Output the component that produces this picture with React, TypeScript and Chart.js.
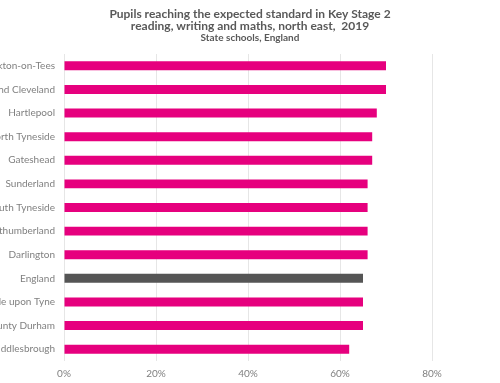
import React, { useEffect, useRef } from "react";
import { Chart, registerables } from "chart.js";

Chart.register(...registerables);

const categories = [
  "Stockton-on-Tees",
  "Redcar and Cleveland",
  "Hartlepool",
  "North Tyneside",
  "Gateshead",
  "Sunderland",
  "South Tyneside",
  "Northumberland",
  "Darlington",
  "England",
  "Newcastle upon Tyne",
  "County Durham",
  "Middlesbrough",
];

const values = [70, 70, 68, 67, 67, 66, 66, 66, 66, 65, 65, 65, 62];

const titleLines = [
  "Pupils reaching the expected standard in Key Stage 2",
  "reading, writing and maths, north east,  2019",
];
const subtitleText = "State schools, England";

const PINK = "#e6007e";
const GREY = "#555555";

export default function App() {
  const ref = useRef<HTMLCanvasElement>(null);

  useEffect(() => {
    if (!ref.current) return;
    const colors = categories.map((c) => (c === "England" ? GREY : PINK));
    const chart = new Chart(ref.current, {
      type: "bar",
      data: {
        labels: categories,
        datasets: [
          {
            data: values,
            backgroundColor: colors,
            borderWidth: 0,
            barPercentage: 0.38,
            categoryPercentage: 1,
          },
        ],
      },
      options: {
        indexAxis: "y",
        animation: false,
        responsive: true,
        maintainAspectRatio: false,
        layout: { padding: { left: 0, right: 0, top: 0, bottom: -4 } },
        plugins: {
          legend: { display: false },
          tooltip: { enabled: false },
          title: {
            display: true,
            text: titleLines,
            color: "#595959",
            font: { family: "Lato", size: 12, weight: "bold", lineHeight: 1.0 },
            padding: { top: 8, bottom: 0 },
          },
          subtitle: {
            display: true,
            text: subtitleText,
            color: "#595959",
            font: { family: "Lato", size: 10, weight: "bold", lineHeight: 1.2 },
            padding: { top: 0, bottom: 10 },
          },
        },
        scales: {
          x: {
            min: 0,
            max: 80,
            ticks: {
              stepSize: 20,
              callback: (v: any) => v + "%",
              color: "#808080",
              font: { family: "Lato", size: 10 },
              padding: 7,
            },
            grid: { display: true, color: "#e6e6e6", drawTicks: false },
            border: { display: false },
          },
          y: {
            ticks: {
              color: "#808080",
              font: { family: "Lato", size: 10 },
              padding: 9,
              autoSkip: false,
            },
            grid: { display: false, drawTicks: false },
            border: { display: false },
            afterFit: (scale: any) => {
              scale.width = 64;
            },
          },
          yRight: {
            type: "category",
            position: "right",
            labels: categories,
            ticks: { display: false },
            grid: { display: false, drawTicks: false },
            border: { display: false },
            afterFit: (scale: any) => {
              scale.width = 68;
            },
          },
        },
      },
    });
    return () => chart.destroy();
  }, []);

  return (
    <div style={{ position: "fixed", left: 0, top: 0, width: 500, height: 383, background: "#fff" }}>
      <canvas ref={ref} />
    </div>
  );
}
